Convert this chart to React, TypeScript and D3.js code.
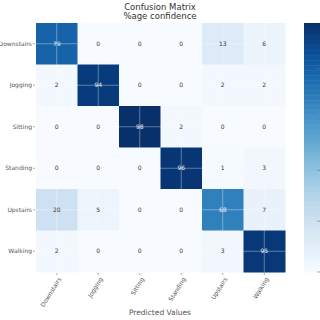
import React from 'react';
import * as d3 from 'd3';

// activity classes, same order on both axes
const classes = ['Downstairs', 'Jogging', 'Sitting', 'Standing', 'Upstairs', 'Walking'];

// rows = actual class, columns = predicted class (% confidence)
const downstairsRow = [79, 0, 0, 0, 13, 6];
const joggingRow = [2, 94, 0, 0, 2, 2];
const sittingRow = [0, 0, 98, 2, 0, 0];
const standingRow = [0, 0, 0, 96, 1, 3];
const upstairsRow = [20, 5, 0, 0, 68, 7];
const walkingRow = [2, 0, 0, 0, 3, 95];

const rows = [downstairsRow, joggingRow, sittingRow, standingRow, upstairsRow, walkingRow];
const colorbarTicks = [0, 20, 40, 60, 80];

const W = 320;
const H = 320;
const left = 36;
const top = 23;
const size = 249;
const font = 'DejaVu Sans, sans-serif';
const labelColor = '#555';

const App = () => {
  const x = d3.scaleBand().domain(classes).range([left, left + size]);
  const y = d3.scaleBand().domain(classes).range([top, top + size]);
  const maxVal = d3.max(rows.flat()) as number;
  const color = d3.scaleSequential(d3.interpolateBlues).domain([0, maxVal]);

  // colorbar, runs off the right edge so only its tick marks show
  const cbX = 304;
  const cbW = 16;
  const cbY = d3.scaleLinear().domain([0, maxVal]).range([top + size, top]);
  const cbSteps = d3.range(0, 100);

  return (
    <div style={{ position: 'fixed', left: 0, top: 0 }}>
      <svg width={W} height={H} style={{ display: 'block', background: '#fff' }}>
        <text x={160} y={10} textAnchor="middle" fontFamily={font} fontSize={8.5} fill="#333">
          Confusion Matrix
        </text>
        <text x={160} y={19} textAnchor="middle" fontFamily={font} fontSize={8.5} fill="#333">
          %age confidence
        </text>

        {rows.map((row, i) =>
          row.map((v, j) => (
            <rect
              key={`c${i}-${j}`}
              x={x(classes[j])}
              y={y(classes[i])}
              width={x.bandwidth() + 0.5}
              height={y.bandwidth() + 0.5}
              fill={color(v)}
            />
          ))
        )}

        {/* grid lines through the cell centres */}
        {classes.map((c) => (
          <g key={`g${c}`}>
            <line
              x1={x(c)! + x.bandwidth() / 2}
              x2={x(c)! + x.bandwidth() / 2}
              y1={top}
              y2={top + size}
              stroke="#fff"
              strokeOpacity={0.45}
              strokeWidth={0.8}
            />
            <line
              y1={y(c)! + y.bandwidth() / 2}
              y2={y(c)! + y.bandwidth() / 2}
              x1={left}
              x2={left + size}
              stroke="#fff"
              strokeOpacity={0.45}
              strokeWidth={0.8}
            />
          </g>
        ))}

        {rows.map((row, i) =>
          row.map((v, j) => (
            <text
              key={`t${i}-${j}`}
              x={x(classes[j])! + x.bandwidth() / 2}
              y={y(classes[i])! + y.bandwidth() / 2}
              dy="0.35em"
              textAnchor="middle"
              fontFamily={font}
              fontSize={6}
              fill={v > maxVal / 2 ? '#e8f0fa' : '#333'}
            >
              {v}
            </text>
          ))
        )}

        {/* y axis labels */}
        {classes.map((c) => (
          <g key={`y${c}`}>
            <line
              x1={left - 3}
              x2={left - 1}
              y1={y(c)! + y.bandwidth() / 2}
              y2={y(c)! + y.bandwidth() / 2}
              stroke="#777"
              strokeWidth={0.6}
            />
            <text
              x={left - 4}
              y={y(c)! + y.bandwidth() / 2}
              dy="0.35em"
              textAnchor="end"
              fontFamily={font}
              fontSize={6}
              fill={labelColor}
            >
              {c}
            </text>
          </g>
        ))}

        {/* x axis labels */}
        {classes.map((c) => {
          const cx = x(c)! + x.bandwidth() / 2;
          return (
            <g key={`x${c}`}>
              <line x1={cx} x2={cx} y1={top + size + 1} y2={top + size + 3} stroke="#777" strokeWidth={0.6} />
              <text
                transform={`translate(${cx + 3},${top + size + 6}) rotate(-58)`}
                textAnchor="end"
                dy="0.35em"
                fontFamily={font}
                fontSize={6}
                fill={labelColor}
              >
                {c}
              </text>
            </g>
          );
        })}

        <text x={160} y={315} textAnchor="middle" fontFamily={font} fontSize={7.5} fill={labelColor}>
          Predicted Values
        </text>

        {/* colorbar */}
        {cbSteps.map((k) => {
          const v0 = (k / cbSteps.length) * maxVal;
          const v1 = ((k + 1) / cbSteps.length) * maxVal;
          return (
            <rect
              key={`cb${k}`}
              x={cbX}
              y={cbY(v1)}
              width={cbW}
              height={cbY(v0) - cbY(v1) + 0.5}
              fill={color((v0 + v1) / 2)}
            />
          );
        })}
        {colorbarTicks.map((t) => (
          <line
            key={`cbt${t}`}
            x1={cbX + cbW - 3}
            x2={cbX + cbW}
            y1={cbY(t)}
            y2={cbY(t)}
            stroke="#777"
            strokeWidth={0.6}
          />
        ))}
      </svg>
    </div>
  );
};

export default App;
